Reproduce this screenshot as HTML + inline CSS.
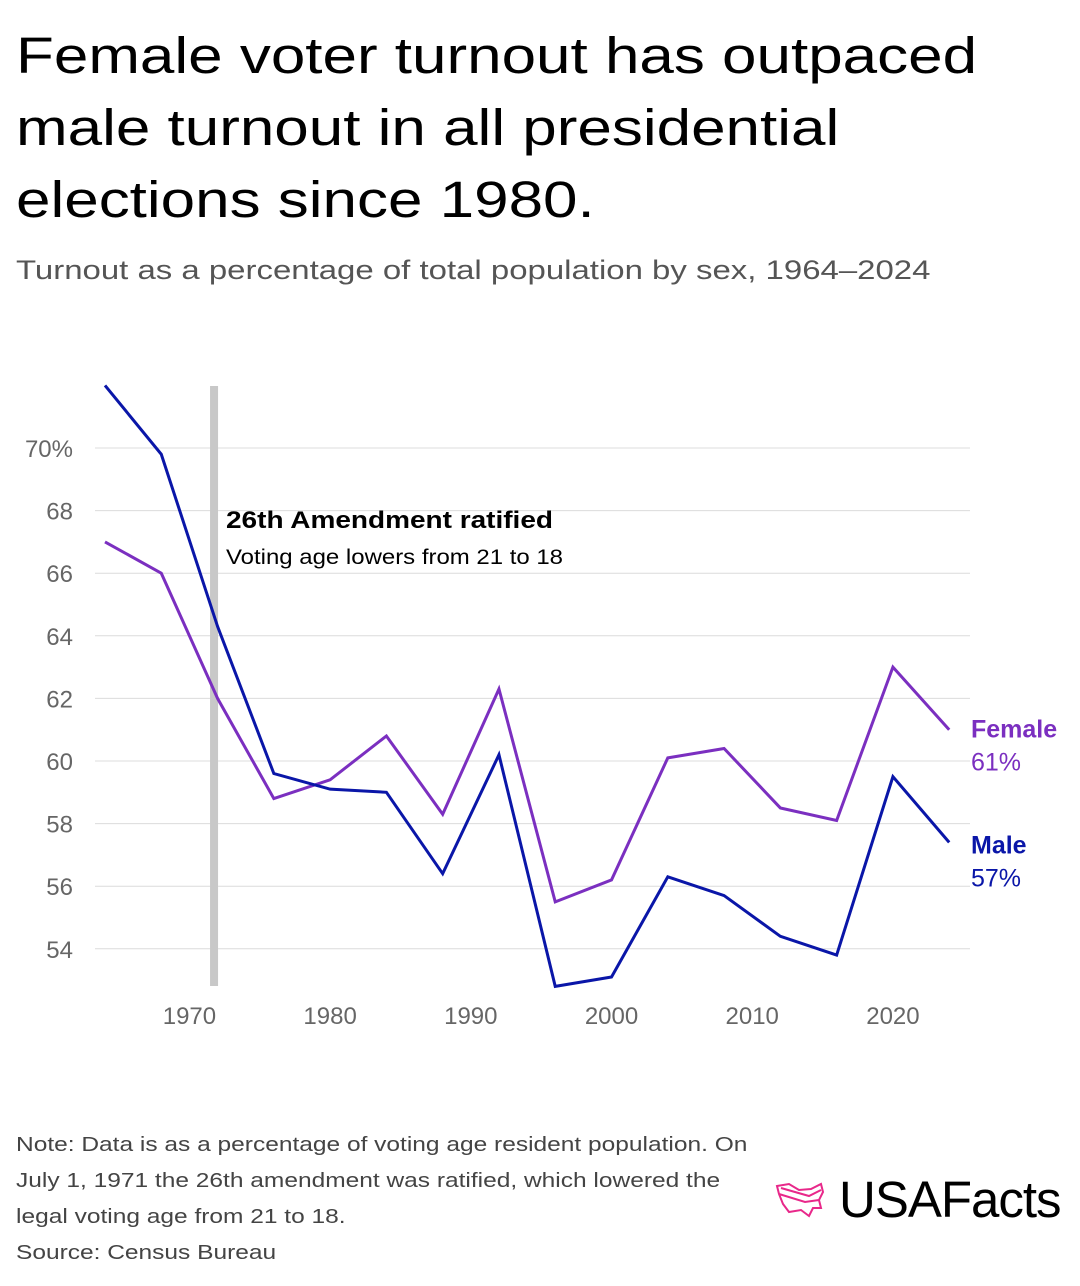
<!DOCTYPE html>
<html><head><meta charset="utf-8"><style>
body{margin:0;background:#fff;font-family:"Liberation Sans",sans-serif;}
#wrap{position:relative;width:1080px;height:1286px;overflow:hidden;}
h1{position:absolute;left:16px;top:20px;margin:0;font-size:51px;line-height:72px;font-weight:500;color:#000;transform:scaleX(1.215);transform-origin:0 0;white-space:nowrap;}
.sub{position:absolute;left:16px;top:255px;font-size:27px;color:#555;transform:scaleX(1.22);transform-origin:0 0;white-space:nowrap;}
.note{position:absolute;left:16px;top:1127px;font-size:20px;line-height:36px;color:#444;transform:scaleX(1.225);transform-origin:0 0;white-space:nowrap;}
.logo{position:absolute;left:775px;top:1170px;display:flex;align-items:center;}
.logo span{font-size:51px;font-weight:500;color:#000;margin-left:12px;letter-spacing:-1px;}
</style></head><body><div id="wrap">
<h1>Female voter turnout has outpaced<br>male turnout in all presidential<br>elections since 1980.</h1>
<div class="sub">Turnout as a percentage of total population by sex, 1964–2024</div>
<svg id="chart" width="1080" height="1286" style="position:absolute;left:0;top:0"></svg>
<div class="note">Note: Data is as a percentage of voting age resident population. On<br>July 1, 1971 the 26th amendment was ratified, which lowered the<br>legal voting age from 21 to 18.<br>Source: Census Bureau</div>
<div class="logo">
<svg width="52" height="40" viewBox="0 0 52 40"><path d="M2 6 L14 4 L24 10 L36 9 L46 4 L48 12 L44 20 L46 28 L38 28 L34 36 L26 30 L14 32 L8 24 L4 14 Z M4 14 L30 22 L44 20 M6 8 L34 16 L46 10" fill="none" stroke="#e8288a" stroke-width="2"/></svg>
<span>USAFacts</span></div>
</div>
<script>
const years=[1964,1968,1972,1976,1980,1984,1988,1992,1996,2000,2004,2008,2012,2016,2020,2024];
const male=[72.0,69.8,64.3,59.6,59.1,59.0,56.4,60.2,52.8,53.1,56.3,55.7,54.4,53.8,59.5,57.4];
const female=[67.0,66.0,62.0,58.8,59.4,60.8,58.3,62.3,55.5,56.2,60.1,60.4,58.5,58.1,63.0,61.0];
const yTicks=[54,56,58,60,62,64,66,68,70];
const xTicks=[1970,1980,1990,2000,2010,2020];
const NS="http://www.w3.org/2000/svg";
const svg=document.getElementById('chart');
const x=yr=>105+(yr-1964)*14.07;
const y=v=>448+(70-v)*31.3;
function mk(t,a){const e=document.createElementNS(NS,t);for(const k in a)e.setAttribute(k,a[k]);svg.appendChild(e);return e;}
yTicks.forEach(v=>{
 const l=mk('line',{x1:95,x2:970,y1:y(v),y2:y(v),stroke:'#dcdcdc','stroke-width':1});
 
 
 const t=mk('text',{x:73,y:y(v)+9,'text-anchor':'end','font-size':24,fill:'#666','font-family':'Liberation Sans, sans-serif'});
 t.textContent=v===70?'70%':v;
 
 
});
xTicks.forEach(yr=>{
 const t=mk('text',{x:x(yr),y:1024,'text-anchor':'middle','font-size':24,fill:'#666','font-family':'Liberation Sans, sans-serif'});
 t.textContent=yr;
 
 
});
const bar=mk('rect',{x:x(1971.75)-4,y:386,width:8,height:600,fill:'#c8c8c8'});


const a1=mk('text',{x:226,y:528,'font-size':24,'font-weight':'bold',fill:'#000','font-family':'Liberation Sans, sans-serif',textLength:327,lengthAdjust:'spacingAndGlyphs'});a1.textContent='26th Amendment ratified';


const a2=mk('text',{x:226,y:564,'font-size':21,fill:'#000','font-family':'Liberation Sans, sans-serif',textLength:337,lengthAdjust:'spacingAndGlyphs'});a2.textContent='Voting age lowers from 21 to 18';


function line(vals,color,name){
 const p=mk('polyline',{points:vals.map((v,i)=>x(years[i])+','+y(v)).join(' '),fill:'none',stroke:color,'stroke-width':3,'stroke-linejoin':'miter'});
 
 
}
line(female,'#7b2fc0','female-line');
line(male,'#0a16a8','male-line');
function lab(txt,yy,color,bold,name){const t=mk('text',{x:971,y:yy,'font-size':25,'font-weight':bold?'bold':'normal',fill:color,'font-family':'Liberation Sans, sans-serif'});t.textContent=txt;
 
 }
lab('Female',y(female[15])+8,'#7b2fc0',true,'female-label');
lab(Math.round(female[15])+'%',y(female[15])+41,'#7b2fc0',false,'female-value');
lab('Male',y(male[15])+11,'#0a16a8',true,'male-label');
lab(Math.round(male[15])+'%',y(male[15])+44,'#0a16a8',false,'male-value');
</script></body></html>
